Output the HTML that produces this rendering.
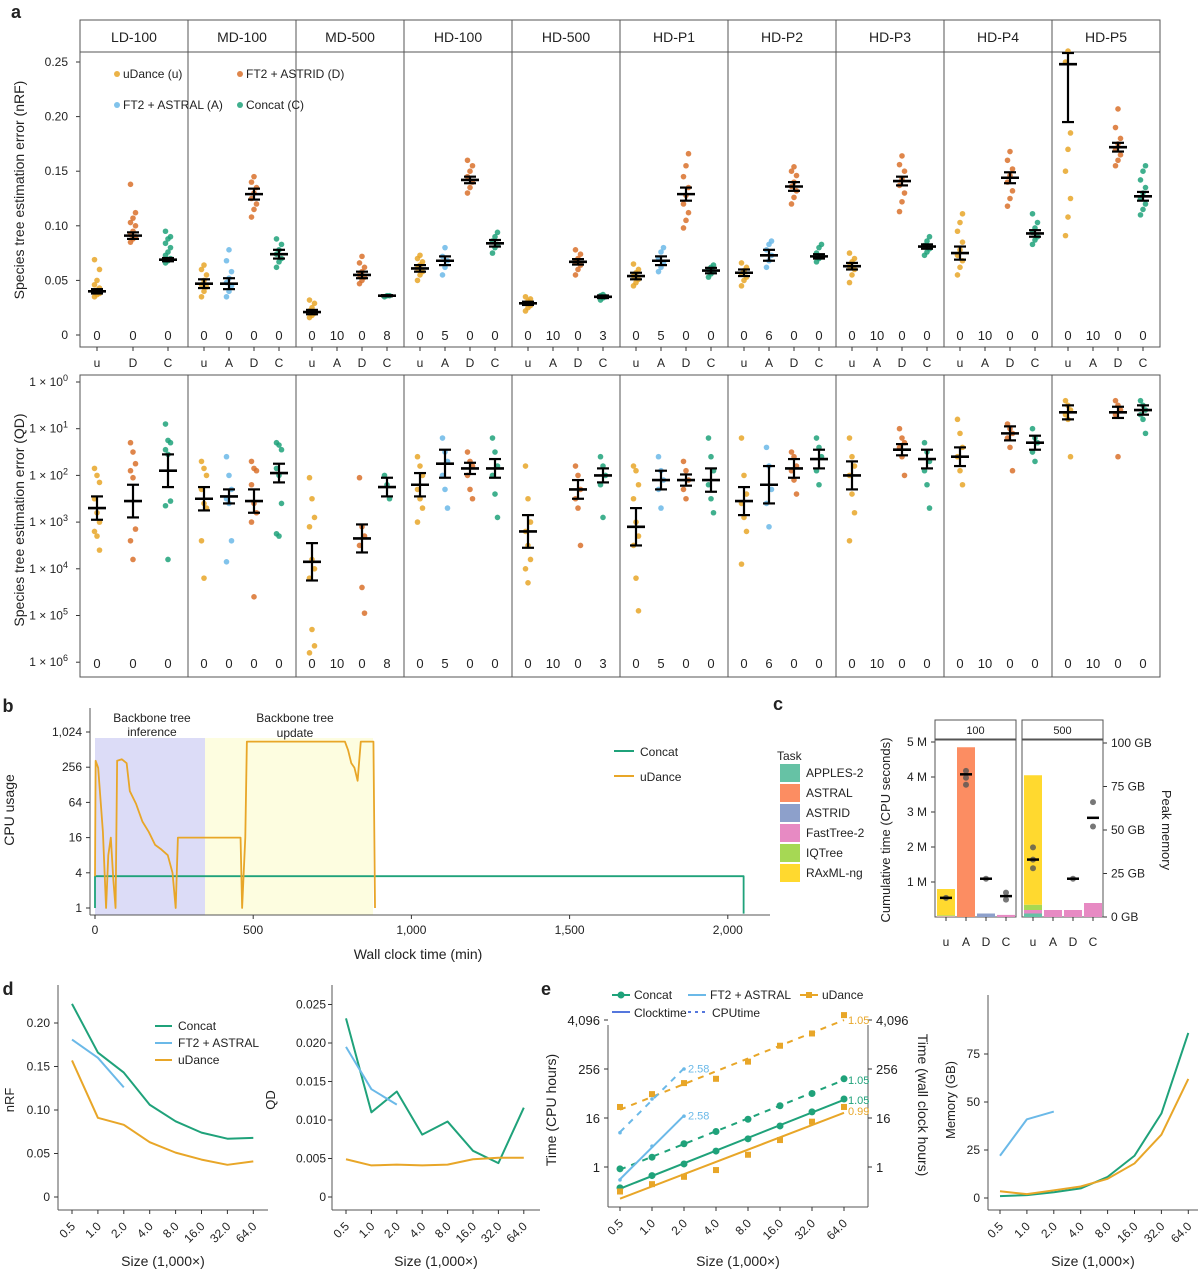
<!DOCTYPE html>
<html><head><meta charset="utf-8"><style>
body{margin:0;background:#fff}
svg{display:block;font-family:"Liberation Sans",sans-serif}
</style></head><body>
<svg id="fig" width="1200" height="1270" viewBox="0 0 1200 1270"></svg>
<script>
// ---------- panel a data ----------
const facetNames=["LD-100","MD-100","MD-500","HD-100","HD-500","HD-P1","HD-P2","HD-P3","HD-P4","HD-P5"];
const facetGroups=[["u","D","C"],["u","A","D","C"],["u","A","D","C"],["u","A","D","C"],["u","A","D","C"],["u","A","D","C"],["u","A","D","C"],["u","A","D","C"],["u","A","D","C"],["u","A","D","C"]];
const failCounts=[[0,0,0],[0,0,0,0],[0,10,0,8],[0,5,0,0],[0,10,0,3],[0,5,0,0],[0,6,0,0],[0,10,0,0],[0,10,0,0],[0,10,0,0]];
const nrfMeans=[[.040,.091,.069],[.047,.047,.129,.074],[.021,null,.055,.036],[.061,.068,.142,.084],[.029,null,.067,.035],[.054,.068,.129,.059],[.057,.073,.136,.072],[.063,null,.141,.081],[.075,null,.144,.093],[.248,null,.172,.127]];
const nrfSE=[[.002,.003,.0015],[.004,.005,.005,.004],[.002,null,.003,.0005],[.003,.004,.003,.003],[.0015,null,.0025,.0012],[.003,.004,.006,.0025],[.003,.005,.004,.002],[.003,null,.004,.002],[.006,null,.005,.003],[.053,null,.004,.004]];
const nrfDots=[
[[.035,.037,.038,.040,.041,.043,.046,.050,.060,.069],[.085,.088,.090,.092,.095,.100,.103,.107,.112,.138],[.066,.068,.070,.073,.076,.080,.084,.088,.090,.095]],
[[.035,.040,.044,.046,.050,.055,.060,.064],[.035,.040,.045,.048,.052,.058,.068,.078],[.108,.115,.120,.125,.130,.135,.140,.145],[.062,.067,.070,.074,.078,.083,.088]],
[[.016,.018,.020,.022,.025,.029,.032],[],[.047,.050,.053,.055,.058,.062,.066,.072],[.035,.036,.036]],
[[.050,.055,.058,.061,.064,.067,.070,.073],[.055,.062,.068,.072,.080],[.130,.135,.140,.145,.150,.155,.160],[.075,.080,.083,.086,.090,.094]],
[[.022,.025,.027,.029,.031,.033,.035],[],[.055,.060,.064,.067,.070,.074,.078],[.032,.034,.035,.036,.037]],
[[.045,.048,.051,.054,.057,.060,.065],[.058,.062,.066,.070,.076,.080],[.098,.105,.112,.120,.128,.135,.145,.155,.166],[.053,.056,.058,.060,.062,.064]],
[[.045,.050,.053,.056,.059,.062,.066],[.062,.068,.073,.078,.083,.086],[.120,.126,.132,.136,.140,.146,.150,.154],[.067,.070,.072,.075,.080,.083]],
[[.048,.055,.060,.063,.067,.070,.075],[],[.113,.122,.130,.137,.143,.150,.156,.164],[.073,.076,.079,.082,.086,.090]],
[[.055,.062,.068,.073,.078,.085,.095,.103,.111],[],[.118,.125,.132,.140,.146,.152,.160,.168],[.083,.087,.090,.094,.098,.103,.111]],
[[.091,.108,.125,.150,.170,.185,.250,.260],[],[.155,.160,.165,.170,.175,.180,.190,.207],[.110,.115,.120,.125,.130,.135,.142,.150,.155]]];
const qdMeans=[[2.7,2.55,1.9],[2.5,2.45,2.55,1.95],[3.85,null,3.35,2.25],[2.2,1.75,1.85,1.85],[3.2,null,2.3,2.0],[3.1,2.1,2.1,2.1],[2.55,2.2,1.85,1.65],[2.0,null,1.45,1.65],[1.6,null,1.1,1.3],[0.65,null,0.65,0.6]];
const qdSE=[[.25,.35,.35],[.25,.15,.25,.2],[.4,null,.3,.2],[.25,.3,.12,.2],[.35,null,.2,.15],[.4,.2,.12,.25],[.3,.4,.2,.2],[.3,null,.12,.2],[.2,null,.15,.15],[.15,null,.12,.1]];
const qdDots=[
[[1.85,2.0,2.15,2.5,2.8,3.0,3.2,3.3,3.6],[1.3,1.5,1.75,1.9,2.05,3.15,3.4,3.8],[0.9,1.25,1.3,1.45,1.55,2.55,2.65,3.8]],
[[1.7,1.85,2.0,2.3,2.6,2.7,3.4,4.2],[1.6,2.0,2.3,2.5,2.6,3.4,3.85],[1.7,1.85,1.9,2.2,2.6,2.8,3.0,4.6],[1.3,1.35,1.45,1.85,2.0,2.6,3.25,3.3]],
[[2.05,2.5,2.9,3.1,3.8,4.0,4.2,5.3,5.65,5.8],[],[2.05,3.1,3.3,3.5,4.4,4.95],[2.0,2.2,2.5]],
[[1.6,1.8,2.0,2.3,2.5,2.7,3.0],[1.2,1.5,1.7,2.0,2.3,2.7],[1.5,1.7,1.8,2.0,2.3,2.5],[1.2,1.5,1.8,2.0,2.4,2.9]],
[[1.8,2.5,3.0,3.2,3.5,3.8,4.0,4.3],[],[1.8,2.0,2.3,2.5,2.7,3.5],[1.6,1.8,2.0,2.2,2.9]],
[[1.8,1.9,2.2,2.5,3.0,3.3,3.5,4.2,4.9],[1.6,1.9,2.1,2.3,2.7],[1.7,1.9,2.1,2.3,2.5],[1.2,1.6,1.9,2.2,2.5,2.8]],
[[1.2,2.0,2.4,2.6,2.9,3.2,3.9],[1.4,1.8,2.3,2.6,3.1],[1.5,1.6,1.8,1.9,2.1,2.4],[1.2,1.4,1.6,1.9,2.2]],
[[1.2,1.6,1.8,2.0,2.4,2.8,3.4],[],[1.0,1.2,1.3,1.4,1.6,2.0],[1.3,1.5,1.7,1.9,2.2,2.7]],
[[0.8,1.1,1.4,1.6,1.9,2.2],[],[0.9,1.0,1.1,1.2,1.4,1.9],[1.0,1.2,1.3,1.5,1.7]],
[[0.4,0.5,0.6,0.7,0.8,1.6],[],[0.4,0.5,0.6,0.7,1.6],[0.4,0.5,0.6,0.7,0.8,1.1]]];
const nrfTicks=[0,0.05,0.10,0.15,0.20,0.25];
const nrfTickLabels=["0","0.05","0.10","0.15","0.20","0.25"];
const qdTicks=[0,1,2,3,4,5,6];
// ---------- panel b data ----------
const bTicksX=[0,500,1000,1500,2000];
const bTickXLabels=["0","500","1,000","1,500","2,000"];
const bTicksY=[1,4,16,64,256,1024];
const bTickYLabels=["1","4","16","64","256","1,024"];
const concatTime=[0,0,2050,2050];
const concatCPU=[1,3.5,3.5,0.8];
const udanceTime=[0,2,10,25,35,42,50,58,65,70,85,100,110,130,150,170,190,210,230,245,255,262,460,465,475,480,790,800,810,820,830,840,880,885];
const udanceCPU=[3.5,330,250,20,1,8,16,3,1,330,350,300,100,60,30,20,12,10,8,4,1,16,16,1,16,700,700,500,300,250,150,700,700,1];
// ---------- panel c data ----------
const cTasks=["APPLES-2","ASTRAL","ASTRID","FastTree-2","IQTree","RAxML-ng"];
const cTaskColors=["#66c2a5","#fc8d62","#8da0cb","#e78ac3","#a6d854","#ffd92f"];
const cFacets=["100","500"];
const cMethods=["u","A","D","C"];
const cTimes=[[[0,0,0,0.02,0.03,0.75],[0,4.85,0,0,0,0],[0,0,0.1,0,0,0],[0,0,0,0.06,0,0]],
[[0.1,0,0,0.1,0.15,3.7],[0,0,0,0.2,0,0],[0,0,0,0.2,0,0],[0,0,0,0.4,0,0]]];
const cMemMean=[[11,82,22,12],[33,null,22,57]];
const cMemDots=[[[11],[76,80,84],[22],[10,14]],[[28,33,40],[],[22],[52,66]]];
// ---------- panel d data ----------
const sizes=["0.5","1.0","2.0","4.0","8.0","16.0","32.0","64.0"];
const dConcatNRF=[.222,.166,.143,.106,.087,.074,.067,.068];
const dFT2NRF=[.181,.160,.126];
const dUdanceNRF=[.157,.091,.083,.063,.051,.043,.037,.041];
const dConcatQD=[.0232,.011,.0137,.0081,.0098,.006,.0044,.0116];
const dFT2QD=[.0195,.014,.012];
const dUdanceQD=[.0049,.0041,.0042,.0041,.0042,.0049,.0051,.0051];
// ---------- panel e data (log2 hours) ----------
const eConcatClock=[-1.7,-0.7,0.25,1.3,2.3,3.35,4.5,5.55];
const eConcatCPU=[-0.15,0.8,1.9,2.9,3.9,5.0,6.0,7.2];
const eUdanceClock=[-2.0,-1.4,-0.8,-0.25,1.0,2.2,3.7,4.9];
const eUdanceCPU=[4.9,5.95,6.85,7.2,8.6,9.9,10.9,12.4];
const eFT2Clock=[-1.05,1.7,4.15];
const eFT2CPU=[2.8,5.55,8.0];
const eTicks=[0,4,8,12];
const eTickLabels=["1","16","256","4,096"];
const memConcat=[1,1.5,3,5,11,22,44,86];
const memFT2=[22,41,45];
const memUdance=[3.5,2,4,6,10,18,33,62];
const memTicks=[0,25,50,75];

const COL={u:"#e8a628",D:"#d9712b",A:"#6bb9e8",C:"#1fa27a"};
const NS="http://www.w3.org/2000/svg";
const svg=document.getElementById("fig");
function mk(tag,attrs,name,parent){
  const el=document.createElementNS(NS,tag);
  for(const k in attrs)el.setAttribute(k,attrs[k]);
  
  
  (parent||svg).appendChild(el);return el;
}
function txt(x,y,s,name,o){o=o||{};
  const t=mk("text",{x:x,y:y,"font-size":o.fs||13,"text-anchor":o.a||"middle",fill:o.fill||"#222","font-weight":o.fw||"normal",transform:o.rot?`rotate(${o.rot} ${x} ${y})`:""},name);
  t.textContent=s;return t;}
function ln(x1,y1,x2,y2,name,st,w,dash){return mk("line",{x1,y1,x2,y2,stroke:st||"#333","stroke-width":w||1,"stroke-dasharray":dash||"none"},name);}
function rect(x,y,w,h,name,fill,st){return mk("rect",{x,y,width:w,height:h,fill:fill||"none",stroke:st||"none"},name);}
function dot(x,y,r,fill,name,op){return mk("circle",{cx:x,cy:y,r,fill,"fill-opacity":op||0.85},name);}
function poly(pts,name,st,w,dash){return mk("polyline",{points:pts.map(p=>p.join(",")).join(" "),fill:"none",stroke:st,"stroke-width":w||2,"stroke-dasharray":dash||"none","stroke-linejoin":"round"},name);}

// ================= PANEL A =================
txt(16,18,"a","panel-a-label",{fs:18,fw:"bold"});
const fx0=80,fw=108;
const yTop=v=>335-v/0.05*54.6;
const yBot=e=>382+e*46.7;
txt(24,190,"Species tree estimation error (nRF)","top-y-axis-title",{rot:-90,fs:14});
txt(24,520,"Species tree estimation error (QD)","bottom-y-axis-title",{rot:-90,fs:14});
nrfTicks.forEach((t,i)=>{const y=yTop(t);ln(76,y,80,y,"nrf-tick");txt(68,y+4,nrfTickLabels[i],"nrf-tick-label",{a:"end",fs:12});});
qdTicks.forEach(t=>{const y=yBot(t);ln(76,y,80,y,"qd-tick");
  const g=mk("text",{x:68,y:y+4,"font-size":12,"text-anchor":"end",fill:"#222"},"qd-tick-label");
  g.innerHTML=`1 × 10<tspan dy="-5" font-size="9">${t}</tspan>`;});
facetNames.forEach((fn,i)=>{
  const x0=fx0+i*fw;
  rect(x0,20,fw,32,"facet-strip-"+fn,"#fff","#555");
  txt(x0+fw/2,42,fn,"facet-label",{fs:14});
  rect(x0,52,fw,295,"top-panel-frame","#fff","#555");
  rect(x0,375,fw,302,"bottom-panel-frame","#fff","#555");
  const gs=facetGroups[i];
  const rel=gs.length===3?[17,53,88]:[16,41,66,91];
  gs.forEach((g,j)=>{
    const x=x0+rel[j];
    ln(x,347,x,351,"x-tick");
    txt(x,367,g,"group-label",{fs:12});
    txt(x,340,String(failCounts[i][j]),"fail-count-top",{fs:13});
    txt(x,668,String(failCounts[i][j]),"fail-count-bottom",{fs:13});
    const jit=k=>((k%3)-1)*2.5;
    nrfDots[i][j].forEach((v,k)=>dot(x+jit(k),yTop(v),2.8,COL[g],"nrf-dot-"+g));
    qdDots[i][j].forEach((v,k)=>dot(x+jit(k),yBot(v),2.8,COL[g],"qd-dot-"+g));
    const drawEB=(m,se,yf,lo,hi,nm)=>{if(m==null)return;
      const y1=Math.max(lo,yf(m+se)),y2=Math.min(hi,yf(m-se)),ym=yf(m);
      const a=Math.min(y1,y2),b=Math.max(y1,y2);
      ln(x,a,x,b,nm,"#000",2.2);ln(x-6,a,x+6,a,nm,"#000",2.2);ln(x-6,b,x+6,b,nm,"#000",2.2);ln(x-9,ym,x+9,ym,nm,"#000",2.6);};
    drawEB(nrfMeans[i][j],nrfSE[i][j],yTop,53,346,"nrf-errorbar");
    drawEB(qdMeans[i][j],qdSE[i][j],yBot,376,676,"qd-errorbar");
  });
});
[["uDance (u)",117,74,COL.u],["FT2 + ASTRID (D)",240,74,COL.D],["FT2 + ASTRAL (A)",117,105,COL.A],["Concat (C)",240,105,COL.C]].forEach(l=>{
  dot(l[1],l[2],3,l[3],"legend-dot");txt(l[1]+6,l[2]+4,l[0],"legend-entry",{a:"start",fs:12});});

// ================= PANEL B =================
txt(8,712,"b","panel-b-label",{fs:18,fw:"bold"});
const bx=t=>95+t*0.3164;
const by=v=>908-Math.log2(v)*17.6;
rect(95,738,110,177,"backbone-inference-shade","#dcdcf7");
rect(205,738,168,177,"backbone-update-shade","#fdfde0");
txt(152,722,"Backbone tree","shade-label",{fs:12});txt(152,736,"inference","shade-label",{fs:12});
txt(295,722,"Backbone tree","shade-label",{fs:12});txt(295,737,"update","shade-label",{fs:12});
ln(90,708,90,915,"b-y-axis","#555");ln(90,915,770,915,"b-x-axis","#555");
bTicksY.forEach((t,i)=>{const y=by(t);ln(86,y,90,y,"b-y-tick");txt(82,y+4,bTickYLabels[i],"b-y-tick-label",{a:"end",fs:12});});
bTicksX.forEach((t,i)=>{const x=bx(t);ln(x,915,x,919,"b-x-tick");txt(x,934,bTickXLabels[i],"b-x-tick-label",{fs:12});});
txt(418,959,"Wall clock time (min)","b-x-axis-title",{fs:14});
txt(14,810,"CPU usage","b-y-axis-title",{rot:-90,fs:14});
poly(concatTime.map((t,i)=>[bx(t),Math.min(915,by(concatCPU[i]))]),"concat-cpu-line",COL.C,1.8);
poly(udanceTime.map((t,i)=>[bx(t),Math.min(915,by(udanceCPU[i]))]),"udance-cpu-line",COL.u,1.8);
ln(614,751,634,751,"legend-concat-swatch",COL.C,2);txt(640,756,"Concat","legend-entry",{a:"start",fs:12});
ln(614,776,634,776,"legend-udance-swatch",COL.u,2);txt(640,781,"uDance","legend-entry",{a:"start",fs:12});

// ================= PANEL C =================
txt(778,710,"c","panel-c-label",{fs:18,fw:"bold"});
const cy=m=>917-m*35;
const cmy=g=>917-g*1.74;
txt(777,760,"Task","c-legend-title",{a:"start",fs:12});
cTasks.forEach((t,i)=>{rect(780,764+i*20,20,18,"c-legend-swatch",cTaskColors[i]);txt(806,777+i*20,t,"c-legend-entry",{a:"start",fs:12});});
[1,2,3,4,5].forEach(m=>{ln(931,cy(m),935,cy(m),"c-y-tick");txt(927,cy(m)+4,m+" M","c-y-tick-label",{a:"end",fs:12});});
[0,25,50,75,100].forEach(g=>{ln(1103,cmy(g),1107,cmy(g),"c-y2-tick");txt(1111,cmy(g)+4,g+" GB","c-y2-tick-label",{a:"start",fs:12});});
txt(890,830,"Cumulative time (CPU seconds)","c-y-axis-title",{rot:-90,fs:13});
txt(1162,830,"Peak memory","c-y2-axis-title",{rot:90,fs:13});
cFacets.forEach((f,fi)=>{
  const x0=fi===0?935:1022,w=81;
  rect(x0,720,w,19,"c-facet-strip","#fff","#555");txt(x0+w/2,734,f,"c-facet-label",{fs:11});
  rect(x0,740,w,177,"c-panel-frame","#fff","#555");
  cMethods.forEach((m,mi)=>{
    const x=x0+11+mi*20;
    let acc=0;
    cTimes[fi][mi].forEach((v,ti)=>{if(v>0){rect(x-9,cy(acc+v),18,v*35,"c-bar-"+cTasks[ti],cTaskColors[ti]);acc+=v;}});
    cMemDots[fi][mi].forEach(g=>dot(x,cmy(g),3,"#555","c-mem-dot",0.8));
    if(cMemMean[fi][mi]!=null)ln(x-6,cmy(cMemMean[fi][mi]),x+6,cmy(cMemMean[fi][mi]),"c-mem-mean","#000",2.5);
    ln(x,917,x,921,"c-x-tick");txt(x,946,m,"c-x-label",{fs:12});
  });
});

function lineChart(o){
  mk("line",{x1:o.x0,y1:o.y0,x2:o.x0,y2:o.y1,stroke:"#555"},"y-axis-line");
  mk("line",{x1:o.x0,y1:o.y1,x2:o.x1,y2:o.y1,stroke:"#555"},"x-axis-line");
  sizes.forEach((s,i)=>{const x=o.xs(i);ln(x,o.y1,x,o.y1+4,"x-tick");txt(x+4,o.y1+17,s,"x-tick-label",{rot:-45,fs:12,a:"end"});});
  txt((o.x0+o.x1)/2,1266,"Size (1,000×)","x-axis-title",{fs:14});
}

// ================= PANEL D =================
txt(8,995,"d","panel-d-label",{fs:18,fw:"bold"});
{const xs=i=>72+i*25.9, ys=v=>1197-v*870;
 lineChart({x0:58,x1:268,y0:985,y1:1210,xs});
 [0,.05,.10,.15,.20].forEach((t,i)=>{ln(54,ys(t),58,ys(t),"y-tick");txt(50,ys(t)+4,["0","0.05","0.10","0.15","0.20"][i],"y-tick-label",{a:"end",fs:12});});
 txt(14,1100,"nRF","d-nrf-y-title",{rot:-90,fs:13});
 poly(dConcatNRF.map((v,i)=>[xs(i),ys(v)]),"d-concat-nrf-line",COL.C,2);
 poly(dFT2NRF.map((v,i)=>[xs(i),ys(v)]),"d-ft2-nrf-line",COL.A,2);
 poly(dUdanceNRF.map((v,i)=>[xs(i),ys(v)]),"d-udance-nrf-line",COL.u,2);
 [["Concat",COL.C,1030],["FT2 + ASTRAL",COL.A,1047],["uDance",COL.u,1064]].forEach(l=>{ln(155,l[2]-4,172,l[2]-4,"legend-swatch",l[1],2);txt(178,l[2],l[0],"legend-entry",{a:"start",fs:12});});
}
{const xs=i=>346+i*25.4, ys=v=>1197-v*7700;
 lineChart({x0:332,x1:540,y0:985,y1:1210,xs});
 [0,.005,.010,.015,.020,.025].forEach((t,i)=>{ln(328,ys(t),332,ys(t),"y-tick");txt(326,ys(t)+4,["0","0.005","0.010","0.015","0.020","0.025"][i],"y-tick-label",{a:"end",fs:12});});
 txt(275,1100,"QD","d-qd-y-title",{rot:-90,fs:13});
 poly(dConcatQD.map((v,i)=>[xs(i),ys(v)]),"d-concat-qd-line",COL.C,2);
 poly(dFT2QD.map((v,i)=>[xs(i),ys(v)]),"d-ft2-qd-line",COL.A,2);
 poly(dUdanceQD.map((v,i)=>[xs(i),ys(v)]),"d-udance-qd-line",COL.u,2);
}

// ================= PANEL E =================
txt(546,995,"e","panel-e-label",{fs:18,fw:"bold"});
{const xs=i=>620+i*32, ys=v=>1167-v*12.25;
 lineChart({x0:608,x1:868,y0:1025,y1:1207,xs});
 mk("line",{x1:868,y1:1025,x2:868,y2:1207,stroke:"#555"},"e-right-axis");
 eTicks.forEach((t,i)=>{ln(604,ys(t),608,ys(t),"e-y-tick");txt(600,ys(t)+5,eTickLabels[i],"e-y-tick-label",{a:"end",fs:13});
   ln(868,ys(t),872,ys(t),"e-y2-tick");txt(876,ys(t)+5,eTickLabels[i],"e-y2-tick-label",{a:"start",fs:13});});
 txt(556,1110,"Time (CPU hours)","e-y-axis-title",{rot:-90,fs:14});
 txt(918,1105,"Time (wall clock hours)","e-y2-axis-title",{rot:90,fs:14});
 const lx=i=>Math.log2(parseFloat(sizes[i]));
 function fit(arr){const n=arr.length;let sx=0,sy=0,sxx=0,sxy=0;arr.forEach((v,i)=>{const x=lx(i);sx+=x;sy+=v;sxx+=x*x;sxy+=x*v;});
   const b=(n*sxy-sx*sy)/(n*sxx-sx*sx),a=(sy-b*sx)/n;return [[xs(0),ys(a+b*lx(0))],[xs(n-1),ys(a+b*lx(n-1))],b];}
 function series(arr,col,dash,shape,name,lab,ly){
   const f=fit(arr);poly([f[0],f[1]],name+"-fit",col,2,dash);
   arr.forEach((v,i)=>{if(shape==="c")dot(xs(i),ys(v),3.5,col,name+"-point",1);
     else if(shape==="s")rect(xs(i)-3,ys(v)-3,6,6,name+"-point",col);
     else dot(xs(i),ys(v),1.8,col,name+"-point",1);});
   txt(f[1][0]+4,(ly||f[1][1])+4,lab,name+"-slope-label",{a:"start",fs:11,fill:col});}
 series(eConcatClock,COL.C,"none","c","concat-clock","1.05");
 series(eConcatCPU,COL.C,"6,6","c","concat-cpu","1.05");
 series(eUdanceClock,COL.u,"none","s","udance-clock","0.99",ys(eConcatClock[7])+12);
 series(eUdanceCPU,COL.u,"6,6","s","udance-cpu","1.05");
 series(eFT2Clock,COL.A,"none","t","ft2-clock","2.58");
 series(eFT2CPU,COL.A,"6,6","t","ft2-cpu","2.58");
 ln(612,995,630,995,"legend-swatch",COL.C,2);dot(621,995,3.5,COL.C,"legend-marker",1);txt(634,999,"Concat","legend-entry",{a:"start",fs:12});
 ln(688,995,706,995,"legend-swatch",COL.A,2);txt(710,999,"FT2 + ASTRAL","legend-entry",{a:"start",fs:12});
 ln(800,995,818,995,"legend-swatch",COL.u,2);rect(806,992,6,6,"legend-marker",COL.u);txt(822,999,"uDance","legend-entry",{a:"start",fs:12});
 ln(612,1012,630,1012,"legend-swatch","#5577dd",2);txt(634,1017,"Clocktime","legend-entry",{a:"start",fs:12});
 ln(688,1012,706,1012,"legend-swatch","#5577dd",2,"3,4");txt(712,1017,"CPUtime","legend-entry",{a:"start",fs:12});
}
{const xs=i=>1000+i*26.9, ys=v=>1198-v*1.92;
 lineChart({x0:988,x1:1198,y0:995,y1:1210,xs});
 memTicks.forEach(t=>{ln(984,ys(t),988,ys(t),"y-tick");txt(980,ys(t)+4,String(t),"y-tick-label",{a:"end",fs:12});});
 txt(955,1100,"Memory (GB)","e-mem-y-title",{rot:-90,fs:13});
 poly(memConcat.map((v,i)=>[xs(i),ys(v)]),"mem-concat-line",COL.C,2);
 poly(memFT2.map((v,i)=>[xs(i),ys(v)]),"mem-ft2-line",COL.A,2);
 poly(memUdance.map((v,i)=>[xs(i),ys(v)]),"mem-udance-line",COL.u,2);
}
</script>
</body></html>
